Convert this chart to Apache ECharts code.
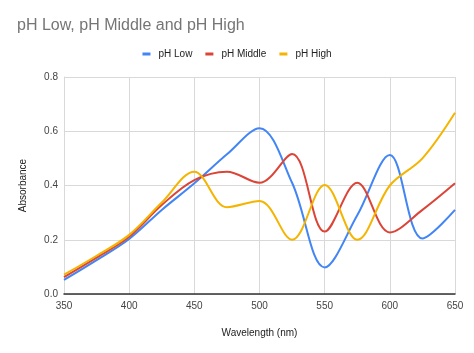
<!DOCTYPE html>
<html>
<head>
<meta charset="utf-8">
<script src="https://cdn.jsdelivr.net/npm/echarts@6/dist/echarts.min.js"></script>
<style>
  html, body { margin: 0; padding: 0; background: #fff; }
  #chart { width: 474px; height: 353px; }
</style>
</head>
<body>
<div id="chart"></div>
<script>
// wavelength (nm)
const wavelengths = [350, 375, 400, 425, 450, 475, 500, 525, 550, 575, 600, 625, 650];
// absorbance values
const phLow    = [0.052, 0.125, 0.203, 0.31, 0.408, 0.515, 0.611, 0.41, 0.098, 0.29, 0.512, 0.205, 0.31];
const phMiddle = [0.062, 0.134, 0.211, 0.328, 0.42, 0.451, 0.41, 0.516, 0.23, 0.41, 0.227, 0.31, 0.408];
const phHigh   = [0.071, 0.141, 0.218, 0.337, 0.451, 0.32, 0.343, 0.2, 0.402, 0.2, 0.40, 0.50, 0.668];
const yTicks = [0, 0.2, 0.4, 0.6, 0.8];

function pairs(vals) {
  return wavelengths.map((w, i) => [w, vals[i]]);
}

const chart = echarts.init(document.getElementById("chart"));

const lineSeries = (name, vals, color) => ({
  name: name,
  type: "line",
  data: pairs(vals),
  smooth: 0.35,
  showSymbol: false,
  lineStyle: { width: 2, color: color },
  itemStyle: { color: color }
});

chart.setOption({
  animation: false,
  textStyle: { fontFamily: "Arial, Liberation Sans, sans-serif" },
  title: {
    text: "pH Low, pH Middle and pH High",
    left: 12,
    top: 13,
    textStyle: { fontSize: 16, fontWeight: "normal", color: "#757575" }
  },
  legend: {
    top: 44,
    left: "center",
    icon: "rect",
    itemWidth: 8,
    itemHeight: 3,
    itemGap: 13,
    textStyle: { fontSize: 10, color: "#222", padding: [0, 0, 0, 3] }
  },
  grid: { left: 64, right: 19, top: 77, bottom: 59 },
  xAxis: {
    type: "value",
    min: 350,
    max: 650,
    interval: 50,
    name: "Wavelength (nm)",
    nameLocation: "middle",
    nameGap: 34,
    nameTextStyle: { fontSize: 10, color: "#222" },
    axisLine: { lineStyle: { color: "#333", width: 1.5 } },
    axisTick: { show: false },
    axisLabel: { fontSize: 10, color: "#444", margin: 7 },
    splitLine: { show: true, lineStyle: { color: "#d9d9d9" } }
  },
  yAxis: {
    type: "value",
    min: yTicks[0],
    max: yTicks[yTicks.length - 1],
    interval: 0.2,
    name: "Absorbance",
    nameLocation: "middle",
    nameGap: 36,
    nameTextStyle: { fontSize: 10, color: "#222" },
    axisLine: { show: true, lineStyle: { color: "#d9d9d9" } },
    axisTick: { show: false },
    axisLabel: { fontSize: 10, color: "#444", margin: 6, formatter: v => v.toFixed(1) },
    splitLine: { show: true, lineStyle: { color: "#d9d9d9" } }
  },
  series: [
    lineSeries("pH Low", phLow, "#4285F4"),
    lineSeries("pH Middle", phMiddle, "#DB4437"),
    lineSeries("pH High", phHigh, "#F4B400")
  ]
});
</script>
</body>
</html>
